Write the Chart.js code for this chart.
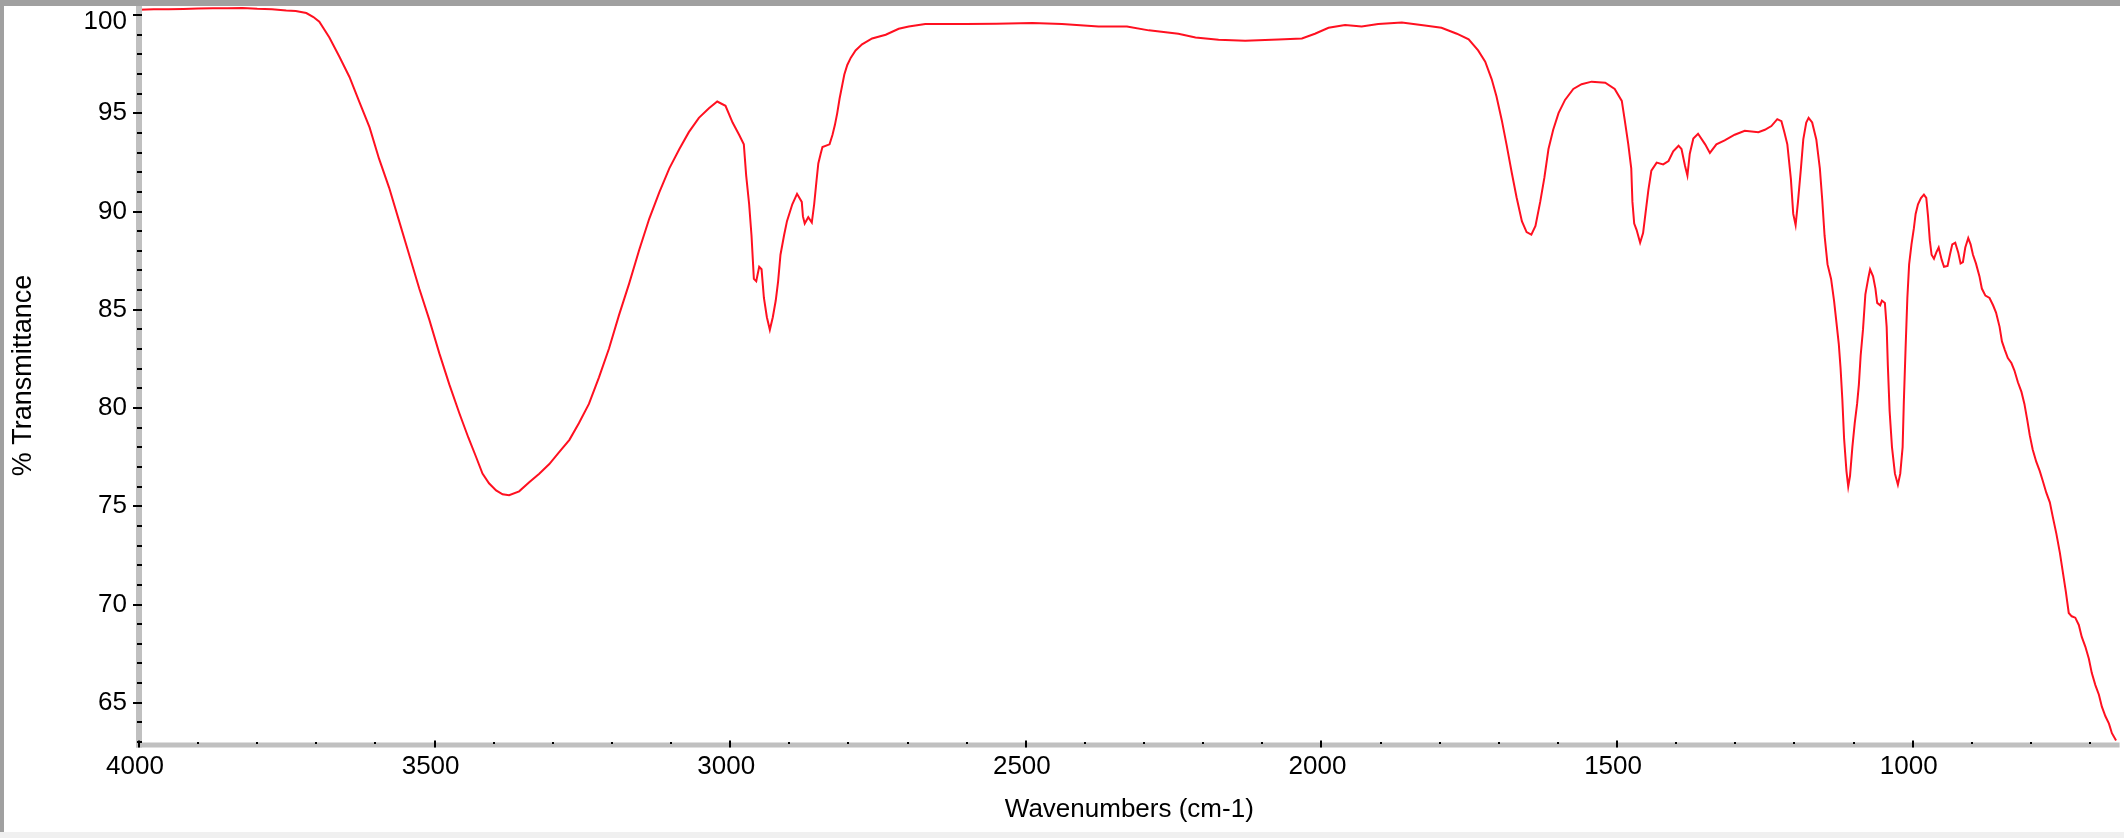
<!DOCTYPE html>
<html>
<head>
<meta charset="utf-8">
<title>IR spectrum</title>
<script src="https://cdn.jsdelivr.net/npm/chart.js@4.4.1/dist/chart.umd.min.js"></script>
<style>
  html, body { margin: 0; padding: 0; background: #fff; }
  #wrap { position: relative; width: 2124px; height: 838px; overflow: hidden; background: #fff; }
  #wrap canvas { position: absolute; left: 0; top: 0; }
  .frame { position: absolute; }
  #frameTop { left: 0; top: 0; width: 2120px; height: 6px; background: #a0a0a0; }
  #frameLeft { left: 0; top: 0; width: 4px; height: 832px; background: #a0a0a0; }
  #frameBottom { left: 0; top: 832px; width: 2124px; height: 6px; background: #f0f0f0; }
</style>
</head>
<body>
<div id="wrap">
  <canvas id="spectrum" width="2124" height="838"></canvas>
  <div class="frame" id="frameTop"></div>
  <div class="frame" id="frameLeft"></div>
  <div class="frame" id="frameBottom"></div>
</div>
<script>
// --- DATA ---
const wavenumbers = [
  4000, 3975, 3950, 3925, 3900, 3875, 3850, 3825, 3800, 3775, 3751, 3735, 3717, 3705, 3695,
  3678, 3661, 3644, 3627, 3610, 3594, 3577, 3560, 3543, 3526, 3509, 3492, 3475, 3458, 3443,
  3430, 3419, 3408, 3396, 3385, 3374, 3357, 3340, 3323, 3306, 3289, 3272, 3256, 3239, 3222,
  3205, 3188, 3171, 3154, 3137, 3120, 3103, 3086, 3070, 3053, 3036, 3022, 3008, 2996, 2985,
  2977, 2973, 2968, 2964, 2960, 2956, 2951, 2947, 2943, 2938, 2933, 2928, 2923, 2919, 2915,
  2909, 2904, 2895, 2887, 2879, 2877, 2874, 2868, 2862, 2858, 2854, 2851, 2847, 2844, 2832,
  2827, 2823, 2819, 2815, 2811, 2807, 2802, 2796, 2788, 2777, 2760, 2737, 2715, 2698, 2670,
  2602, 2550, 2489, 2439, 2377, 2329, 2292, 2242, 2213, 2174, 2129, 2073, 2033, 2011, 1988,
  1960, 1932, 1904, 1864, 1825, 1797, 1771, 1751, 1735, 1723, 1712, 1704, 1695, 1687, 1678,
  1670, 1661, 1653, 1645, 1638, 1630, 1623, 1616, 1608, 1599, 1588, 1574, 1560, 1543, 1520,
  1504, 1492, 1487, 1481, 1476, 1474, 1471, 1467, 1461, 1456, 1452, 1447, 1442, 1433, 1422,
  1413, 1405, 1396, 1391, 1385, 1381, 1377, 1371, 1363, 1351, 1343, 1332, 1318, 1301, 1284,
  1261, 1250, 1239, 1229, 1222, 1217, 1212, 1206, 1202, 1198, 1194, 1189, 1185, 1180, 1176,
  1170, 1163, 1157, 1153, 1149, 1144, 1138, 1133, 1129, 1125, 1122, 1119, 1116, 1112, 1109,
  1106, 1102, 1098, 1094, 1091, 1088, 1084, 1080, 1075, 1072, 1067, 1063, 1060, 1055, 1052,
  1047, 1044, 1042, 1039, 1035, 1030, 1025, 1021, 1017, 1015, 1012, 1009, 1006, 1002, 998,
  995, 991, 986, 981, 977, 974, 971, 968, 964, 960, 956, 951, 947, 941, 937,
  933, 928, 923, 919, 915, 911, 906, 902, 898, 893, 887, 883, 877, 870, 864,
  859, 853, 849, 844, 839, 833, 828, 822, 816, 811, 806, 802, 797, 791, 785,
  780, 774, 768, 763, 757, 751, 746, 741, 736, 731, 725, 719, 714, 708, 702,
  697, 691, 685, 680, 674, 668, 663, 656
];
const transmittance = [
  100.27, 100.30, 100.29, 100.31, 100.33, 100.35, 100.34, 100.36, 100.32, 100.30, 100.23, 100.20, 100.10, 99.90, 99.66,
  98.86, 97.88, 96.85, 95.55, 94.28, 92.69, 91.22, 89.51, 87.80, 86.08, 84.50, 82.78, 81.19, 79.72, 78.50,
  77.52, 76.66, 76.17, 75.81, 75.61, 75.56, 75.76, 76.22, 76.66, 77.15, 77.77, 78.38, 79.23, 80.21, 81.56,
  83.03, 84.74, 86.33, 88.04, 89.63, 90.98, 92.20, 93.18, 94.04, 94.77, 95.26, 95.60, 95.38, 94.53, 93.91,
  93.42, 91.83, 90.37, 88.78, 86.57, 86.45, 87.19, 87.06, 85.60, 84.62, 83.98, 84.62, 85.47, 86.45, 87.80,
  88.78, 89.51, 90.37, 90.90, 90.49, 89.75, 89.39, 89.71, 89.44, 90.37, 91.59, 92.45, 92.94, 93.28, 93.42,
  93.91, 94.40, 95.01, 95.75, 96.36, 96.97, 97.46, 97.83, 98.20, 98.51, 98.81, 99.00, 99.30, 99.42, 99.54,
  99.54, 99.56, 99.59, 99.54, 99.42, 99.42, 99.22, 99.05, 98.86, 98.74, 98.69, 98.76, 98.81, 99.05, 99.35,
  99.49, 99.42, 99.54, 99.62, 99.47, 99.35, 99.05, 98.76, 98.20, 97.63, 96.73, 95.87, 94.65, 93.42, 91.96,
  90.73, 89.51, 88.95, 88.82, 89.27, 90.49, 91.71, 93.18, 94.16, 95.01, 95.68, 96.24, 96.48, 96.61, 96.56,
  96.24, 95.63, 94.65, 93.42, 92.20, 90.49, 89.39, 89.07, 88.41, 88.90, 89.88, 91.10, 92.08, 92.49, 92.40,
  92.57, 93.06, 93.35, 93.18, 92.32, 91.83, 92.94, 93.72, 93.96, 93.42, 92.98, 93.42, 93.62, 93.91, 94.11,
  94.04, 94.16, 94.35, 94.70, 94.60, 94.04, 93.42, 91.66, 89.88, 89.31, 90.49, 92.20, 93.67, 94.53, 94.77,
  94.53, 93.67, 92.20, 90.61, 88.77, 87.31, 86.57, 85.47, 84.37, 83.27, 82.05, 80.46, 78.45, 76.79, 76.00,
  76.54, 78.01, 79.23, 80.21, 81.19, 82.66, 84.00, 85.79, 86.62, 87.06, 86.70, 86.08, 85.35, 85.23, 85.47,
  85.35, 84.13, 82.17, 79.85, 78.01, 76.66, 76.10, 76.66, 78.01, 80.26, 83.03, 85.60, 87.31, 88.33, 89.14,
  89.88, 90.37, 90.69, 90.86, 90.69, 89.75, 88.53, 87.80, 87.60, 87.92, 88.17, 87.55, 87.19, 87.23, 87.80,
  88.33, 88.41, 87.92, 87.36, 87.43, 88.17, 88.65, 88.33, 87.80, 87.36, 86.70, 86.08, 85.72, 85.60, 85.23,
  84.86, 84.13, 83.39, 82.95, 82.54, 82.29, 81.92, 81.31, 80.82, 80.21, 79.36, 78.62, 77.89, 77.27, 76.79,
  76.30, 75.69, 75.20, 74.46, 73.61, 72.63, 71.65, 70.67, 69.57, 69.40, 69.33, 68.96, 68.35, 67.86, 67.24,
  66.51, 65.90, 65.41, 64.80, 64.31, 63.94, 63.45, 63.08
];

// --- AXES ---
const xMajorTicks = [4000, 3500, 3000, 2500, 2000, 1500, 1000];
const yMajorTicks = [65, 70, 75, 80, 85, 90, 95, 100];
const xRange = [650, 4000];
const yRange = [62.85, 100.46];
const xTitle = 'Wavenumbers (cm-1)';
const yTitle = '% Transmittance';

const FONT_FAMILY = '"Liberation Sans", Arial, sans-serif';
const LINE_RED = '#ff1020';
const AXIS_GRAY = '#c0c0c0';

const points = wavenumbers.map((w, i) => ({ x: w, y: transmittance[i] }));
const isMajor = (list, v) => list.includes(v);

// thick grey axis bars with the small black tick marks sitting on them
const axisFrame = {
    id: 'axisFrame',
    beforeDraw(chart) {
        // the top y label is nudged down so it clears the window frame, like the original
        const y = chart.scales.y;
        if (!y || typeof y.getLabelItems !== 'function') return;
        const top = yMajorTicks[yMajorTicks.length - 1];
        y.getLabelItems().forEach(item => {
            const tr = item.options && item.options.translation;
            if (item.label === String(top) && tr && !item._nudged) {
                tr[1] += 7;
                item._nudged = true;
            }
        });
    },
    afterDatasetsDraw(chart) {
        const { ctx, chartArea: a, scales: { x, y } } = chart;
        ctx.save();
        ctx.fillStyle = AXIS_GRAY;
        ctx.fillRect(a.left - 3, a.top, 6, a.bottom - a.top + 2.5);
        ctx.fillRect(a.left - 3, a.bottom - 2.5, a.right - a.left + 3, 5);
        ctx.fillStyle = '#000';
        y.ticks.forEach(t => {
            const py = Math.round(y.getPixelForValue(t.value));
            if (isMajor(yMajorTicks, t.value)) ctx.fillRect(a.left - 6, py - 1, 9, 2);
            else ctx.fillRect(a.left - 2, py - 1, 5, 2);
        });
        x.ticks.forEach(t => {
            const px = Math.round(x.getPixelForValue(t.value));
            if (isMajor(xMajorTicks, t.value)) ctx.fillRect(px - 1, a.bottom - 4.5, 2, 7);
            else ctx.fillRect(px - 1, a.bottom - 3, 2, 2);
        });
        ctx.restore();
    }
};

new Chart(document.getElementById('spectrum'), {
    type: 'line',
    data: {
        datasets: [{
            label: 'spectrum',
            data: points,
            borderColor: LINE_RED,
            borderWidth: 2,
            pointRadius: 0,
            tension: 0,
            fill: false
        }]
    },
    options: {
        responsive: false,
        animation: false,
        events: [],
        layout: { padding: { top: 6, right: 4.4, bottom: 0, left: 0 } },
        plugins: { legend: { display: false }, tooltip: { enabled: false } },
        scales: {
            x: {
                type: 'linear',
                reverse: true,
                min: xRange[0],
                max: xRange[1],
                ticks: {
                    stepSize: 100,
                    includeBounds: false,
                    autoSkip: false,
                    maxRotation: 0,
                    padding: 6,
                    labelOffset: -4,
                    color: '#000',
                    font: { family: FONT_FAMILY, size: 26 },
                    callback: v => isMajor(xMajorTicks, v) ? String(v) : ''
                },
                grid: { display: false, drawOnChartArea: false, drawTicks: false },
                border: { display: false },
                title: {
                    display: true,
                    text: xTitle,
                    color: '#000',
                    font: { family: FONT_FAMILY, size: 26 },
                    padding: { top: 0, bottom: 12.4 }
                },
                afterFit: s => { s.height = 93; s.paddingLeft = 0; s.paddingRight = 0; }
            },
            y: {
                type: 'linear',
                min: yRange[0],
                max: yRange[1],
                ticks: {
                    stepSize: 1,
                    includeBounds: false,
                    autoSkip: false,
                    padding: 12,
                    color: '#000',
                    font: { family: FONT_FAMILY, size: 26 },
                    callback: v => isMajor(yMajorTicks, v) ? String(v) : ''
                },
                grid: { display: false, drawOnChartArea: false, drawTicks: false },
                border: { display: false },
                title: {
                    display: true,
                    text: yTitle,
                    color: '#000',
                    font: { family: FONT_FAMILY, size: 27 },
                    padding: { top: 7, bottom: 0 }
                },
                afterFit: s => { s.width = 139; s.paddingTop = 0; s.paddingBottom = 0; }
            }
        }
    },
    plugins: [axisFrame]
});
</script>
</body>
</html>
